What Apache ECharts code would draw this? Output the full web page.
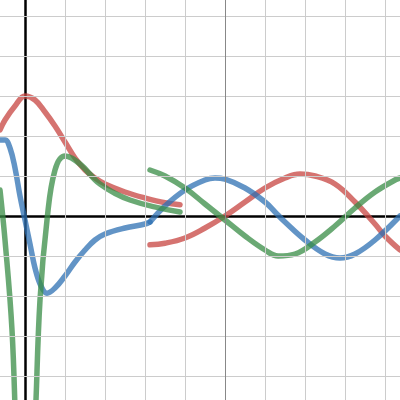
<!DOCTYPE html>
<html>
<head>
<meta charset="utf-8">
<script src="https://cdn.jsdelivr.net/npm/echarts@6/dist/echarts.min.js"></script>
<style>html,body{margin:0;padding:0;background:#fff}#c{width:400px;height:400px}</style>
</head>
<body>
<div id="c"></div>
<script>
// curves, piecewise
const redX1 = [-0.625, -0.5, -0.25, 0, 0.25, 0.5, 0.75, 1.0, 1.25, 1.5, 1.75, 2.0, 2.5, 3.0, 3.5, 3.875];
const redY1 = [2.15, 2.4, 2.75, 3.0, 2.9, 2.6, 2.25, 1.85, 1.45, 1.15, 0.95, 0.8, 0.6, 0.45, 0.33, 0.28];
const redX2 = [3.125, 3.5, 4, 4.5, 5, 5.5, 6, 6.5, 6.875, 7.25, 7.75, 8.25, 8.75, 9.0, 9.375];
const redY2 = [-0.72, -0.68, -0.55, -0.3, 0.0, 0.35, 0.7, 0.95, 1.05, 1.0, 0.8, 0.35, -0.2, -0.5, -0.85];

const blueX1 = [-0.625, -0.5, -0.375, -0.25, -0.125, 0, 0.125, 0.25, 0.4, 0.55, 0.75, 1.0, 1.25, 1.5, 1.75, 2.0, 2.5, 3.0, 3.125];
const blueY1 = [1.9, 1.9, 1.7, 1.2, 0.5, -0.1, -0.7, -1.3, -1.75, -1.93, -1.8, -1.5, -1.15, -0.85, -0.6, -0.45, -0.3, -0.2, -0.15];
const blueX2 = [3.125, 3.5, 4, 4.5, 4.75, 5, 5.5, 6, 6.25, 6.5, 7, 7.5, 7.875, 8.25, 8.75, 9.375];
const blueY2 = [-0.15, 0.25, 0.65, 0.9, 0.95, 0.92, 0.7, 0.35, 0.1, -0.15, -0.6, -0.95, -1.05, -0.95, -0.6, 0.0];

const greenX1 = [-0.625, -0.5, -0.325, -0.2, -0.05, 0.2, 0.375, 0.55, 0.75, 1.0, 1.375, 1.875, 2.625, 3.875];
const greenY1 = [0.65, -0.6, -2.85, -6, -8, -6, -2.1, -0.1, 1.15, 1.5, 1.3, 0.8, 0.4, 0.1];
const greenX2 = [3.125, 3.5, 4, 4.5, 5, 5.5, 6, 6.33, 6.75, 7.25, 7.75, 8.25, 8.75, 9.25, 9.375];
const greenY2 = [1.15, 1.0, 0.7, 0.3, -0.1, -0.5, -0.85, -1.0, -0.95, -0.65, -0.25, 0.2, 0.6, 0.9, 0.95];

// grid lines
const gridX = [1, 2, 3, 4, 6, 7, 8, 9];
const gridY = [-4, -3, -2, -1, 1, 2, 3, 4, 5];
const majorX = [5];

const zip = (xs, ys) => xs.map((x, i) => [x, ys[i]]);

var chart = echarts.init(document.getElementById('c'));

function curve(xs, ys, color) {
    return {
        type: 'line',
        data: zip(xs, ys),
        smooth: 0.4,
        showSymbol: false,
        silent: true,
        z: 3,
        lineStyle: { color: color, width: 5.5, opacity: 0.75, cap: 'round' }
    };
}

function lines(vals, key, color) {
    return {
        silent: true, symbol: 'none', label: { show: false }, animation: false,
        lineStyle: { color: color, type: 'solid', width: 1, opacity: 1 },
        data: vals.map(v => ({ [key]: v }))
    };
}

var option = {
    animation: false,
    grid: { left: 0, right: 0, top: 0, bottom: 0 },
    xAxis: {
        type: 'value', min: -0.625, max: 9.375,
        axisLabel: { show: false }, axisTick: { show: false }, splitLine: { show: false },
        axisLine: { onZero: true, lineStyle: { color: '#000', width: 2.5 } }
    },
    yAxis: {
        type: 'value', min: -4.6, max: 5.4,
        axisLabel: { show: false }, axisTick: { show: false }, splitLine: { show: false },
        axisLine: { onZero: true, lineStyle: { color: '#000', width: 2.5 } }
    },
    series: [
        { type: 'line', data: [], z: 1, markLine: lines(gridX, 'xAxis', '#ccc') },
        { type: 'line', data: [], z: 1, markLine: lines(gridY, 'yAxis', '#ccc') },
        { type: 'line', data: [], z: 1, markLine: lines(majorX, 'xAxis', '#888') },
        curve(redX1, redY1, '#c74440'),
        curve(redX2, redY2, '#c74440'),
        curve(blueX1, blueY1, '#2d70b3'),
        curve(blueX2, blueY2, '#2d70b3'),
        curve(greenX1, greenY1, '#388c46'),
        curve(greenX2, greenY2, '#388c46')
    ]
};

chart.setOption(option);
</script>
</body>
</html>
